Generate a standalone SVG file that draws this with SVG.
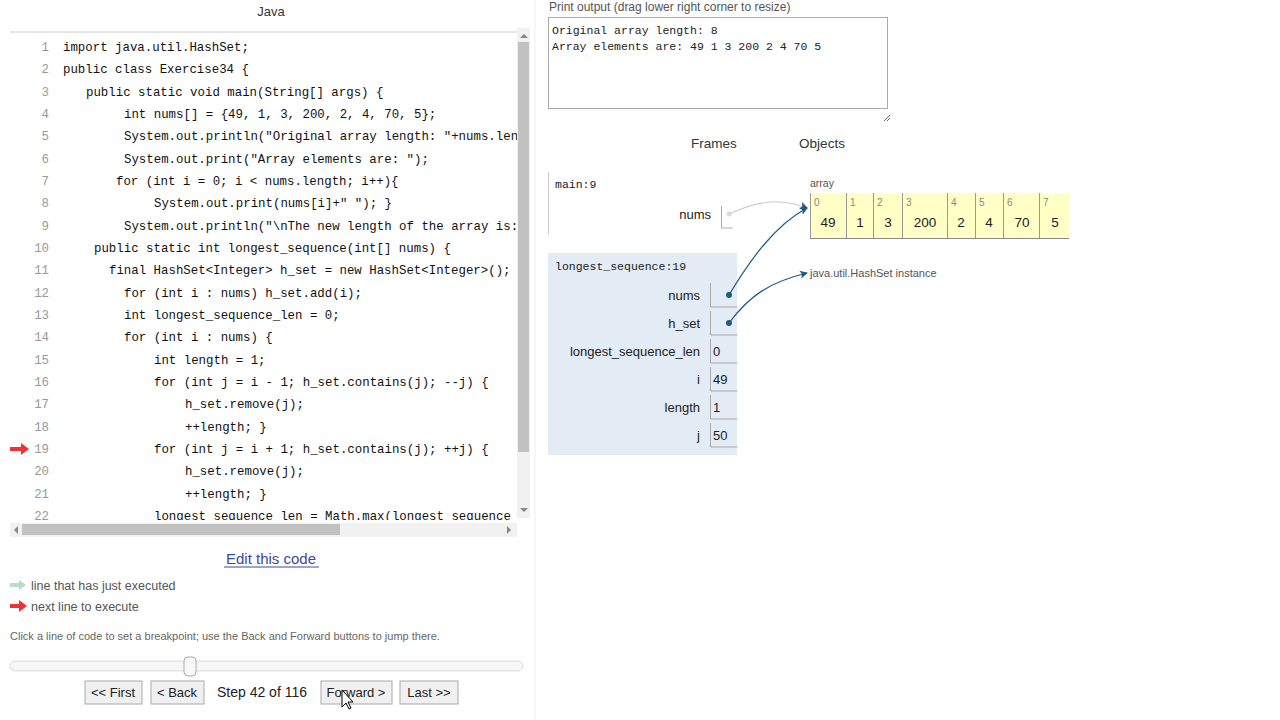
<svg xmlns="http://www.w3.org/2000/svg" width="1280" height="720" viewBox="0 0 1280 720">
<style>
.code{font-family:"Liberation Mono",monospace;font-size:12.4px;fill:#111}
.ln{font-family:"Liberation Mono",monospace;font-size:12.4px;fill:#999;text-anchor:end}
.ui{font-family:"Liberation Sans",Arial,sans-serif;font-size:13px;fill:#333}
.var{font-family:"Liberation Sans",Arial,sans-serif;font-size:13px;fill:#222;text-anchor:end}
.val{font-family:"Liberation Sans",Arial,sans-serif;font-size:13px;fill:#222}
.mono{font-family:"Liberation Mono",monospace;font-size:11.5px;fill:#222}
.idx{font-family:"Liberation Sans",Arial,sans-serif;font-size:10px;fill:#888}
.cell{font-family:"Liberation Sans",Arial,sans-serif;font-size:13.5px;fill:#222;text-anchor:middle}
.btn{fill:#f0f0f0;stroke:#aaa}
.btxt{font-family:"Liberation Sans",Arial,sans-serif;font-size:13px;fill:#222;text-anchor:middle}
.vbox{fill:none;stroke:#aaa}
</style>
<defs>
<clipPath id="cc"><rect x="0" y="30" width="517" height="490"/></clipPath>
<marker id="ab" markerWidth="8" markerHeight="8" refX="7" refY="4" orient="auto" markerUnits="userSpaceOnUse"><path d="M0,0 L8,4 L0,8 L2,4 z" fill="#1f5a80"/></marker>
</defs>
<rect width="1280" height="720" fill="#fff"/>
<line x1="535" y1="0" x2="535" y2="720" stroke="#eee"/>
<g id="editor">
<text x="271" y="16" class="ui" text-anchor="middle">Java</text>
<line x1="10" y1="32" x2="517" y2="32" stroke="#ccc"/>
<g clip-path="url(#cc)">
<text class="ln" x="49" y="51">1</text><text class="code" x="63" y="51">import java.util.HashSet;</text>
<text class="ln" x="49" y="73">2</text><text class="code" x="63" y="73">public class Exercise34 {</text>
<text class="ln" x="49" y="96">3</text><text class="code" x="86" y="96">public static void main(String[] args) {</text>
<text class="ln" x="49" y="118">4</text><text class="code" x="124" y="118">int nums[] = {49, 1, 3, 200, 2, 4, 70, 5};</text>
<text class="ln" x="49" y="140">5</text><text class="code" x="124" y="140">System.out.println("Original array length: "+nums.length);</text>
<text class="ln" x="49" y="163">6</text><text class="code" x="124" y="163">System.out.print("Array elements are: ");</text>
<text class="ln" x="49" y="185">7</text><text class="code" x="116" y="185">for (int i = 0; i &lt; nums.length; i++){</text>
<text class="ln" x="49" y="207">8</text><text class="code" x="154" y="207">System.out.print(nums[i]+" "); }</text>
<text class="ln" x="49" y="230">9</text><text class="code" x="124" y="230">System.out.println("\nThe new length of the array is: "+longest_sequence(nums));</text>
<text class="ln" x="49" y="252">10</text><text class="code" x="94" y="252">public static int longest_sequence(int[] nums) {</text>
<text class="ln" x="49" y="274">11</text><text class="code" x="109" y="274">final HashSet&lt;Integer&gt; h_set = new HashSet&lt;Integer&gt;();</text>
<text class="ln" x="49" y="297">12</text><text class="code" x="124" y="297">for (int i : nums) h_set.add(i);</text>
<text class="ln" x="49" y="319">13</text><text class="code" x="124" y="319">int longest_sequence_len = 0;</text>
<text class="ln" x="49" y="341">14</text><text class="code" x="124" y="341">for (int i : nums) {</text>
<text class="ln" x="49" y="364">15</text><text class="code" x="154" y="364">int length = 1;</text>
<text class="ln" x="49" y="386">16</text><text class="code" x="154" y="386">for (int j = i - 1; h_set.contains(j); --j) {</text>
<text class="ln" x="49" y="408">17</text><text class="code" x="185" y="408">h_set.remove(j);</text>
<text class="ln" x="49" y="431">18</text><text class="code" x="185" y="431">++length; }</text>
<text class="ln" x="49" y="453">19</text><text class="code" x="154" y="453">for (int j = i + 1; h_set.contains(j); ++j) {</text>
<text class="ln" x="49" y="475">20</text><text class="code" x="185" y="475">h_set.remove(j);</text>
<text class="ln" x="49" y="498">21</text><text class="code" x="185" y="498">++length; }</text>
<text class="ln" x="49" y="520">22</text><text class="code" x="154" y="520">longest_sequence_len = Math.max(longest_sequence_len, length);</text>
</g>
<path d="M10,447 h11 v-4 l8,6 l-8,6 v-4 h-11z" fill="#e33"/>
<rect x="517" y="28" width="13" height="490" fill="#f1f1f1"/>
<rect x="518" y="42" width="11" height="410" fill="#c1c1c1"/>
<path d="M520,38 l4,-4 l4,4z" fill="#888"/><path d="M520,508 l4,4 l4,-4z" fill="#888"/>
<rect x="10" y="523" width="507" height="14" fill="#f1f1f1"/>
<rect x="22" y="524" width="318" height="11" fill="#c1c1c1"/>
<path d="M18,526 l-4,4 l4,4z" fill="#888"/><path d="M507,526 l4,4 l-4,4z" fill="#888"/>
</g>
<g id="controls">
<text x="271" y="564" class="ui" text-anchor="middle" style="fill:#3b4a9c;font-size:15px">Edit this code</text>
<line x1="224" y1="567" x2="319" y2="567" stroke="#3b4a9c"/>
<path d="M10,583 h9 v-3 l7,5 l-7,5 v-3 h-9z" fill="#b9dcc9"/>
<text x="31" y="590" class="ui" style="fill:#555;font-size:12.5px">line that has just executed</text>
<path d="M10,604 h9 v-4 l8,6 l-8,6 v-4 h-9z" fill="#e33"/>
<text x="31" y="611" class="ui" style="fill:#555;font-size:12.5px">next line to execute</text>
<text x="10" y="640" class="ui" style="fill:#666;font-size:11px">Click a line of code to set a breakpoint; use the Back and Forward buttons to jump there.</text>
<rect x="10" y="661" width="513" height="10" rx="5" fill="#f6f6f6" stroke="#ddd"/>
<rect x="184" y="657" width="12" height="19" rx="4" fill="#f8f8f8" stroke="#aaa"/>
<rect x="85" y="681" width="57" height="23" class="btn"/><text x="113" y="697" class="btxt">&lt;&lt; First</text>
<rect x="151" y="681" width="53" height="23" class="btn"/><text x="177" y="697" class="btxt">&lt; Back</text>
<text x="262" y="697" class="btxt" style="font-size:14px">Step 42 of 116</text>
<rect x="321" y="681" width="71" height="23" class="btn"/><text x="356" y="697" class="btxt">Forward &gt;</text>
<rect x="400" y="681" width="58" height="23" class="btn"/><text x="429" y="697" class="btxt">Last &gt;&gt;</text>
<path d="M342,690 v17 l4,-4 l3,6 l2,-1 l-3,-6 h5z" fill="#fff" stroke="#000" stroke-width="1"/>
</g>
<g id="output">
<text x="549" y="11" class="ui" style="fill:#555;font-size:12px">Print output (drag lower right corner to resize)</text>
<rect x="548.5" y="17.5" width="339" height="91" fill="#fff" stroke="#aaa"/>
<text x="552" y="34" class="mono">Original array length: 8</text>
<text x="552" y="50" class="mono">Array elements are: 49 1 3 200 2 4 70 5</text>
<path d="M884,121 l6,-6 M887,121 l3,-3" stroke="#666"/>
</g>
<text x="714" y="148" class="ui" text-anchor="middle" style="font-size:13.5px">Frames</text>
<text x="822" y="148" class="ui" text-anchor="middle" style="font-size:13.5px">Objects</text>
<g id="frame-main">
<line x1="548.5" y1="172" x2="548.5" y2="234" stroke="#ccc"/>
<text x="555" y="188" class="mono">main:9</text>
<text x="711" y="219" class="var">nums</text>
<path d="M721.5,206 v22 h11" class="vbox" stroke="#ccc"/>
<circle cx="729" cy="214" r="2.5" fill="#ddd"/>
</g>
<g id="frame-ls">
<rect x="548" y="253" width="189" height="202" fill="#e3ebf5"/>
<text x="555" y="270" class="mono">longest_sequence:19</text>
<text x="700" y="300" class="var">nums</text><path d="M710.5,283 v24 h27" class="vbox"/>
<text x="700" y="328" class="var">h_set</text><path d="M710.5,311 v24 h27" class="vbox"/>
<text x="700" y="356" class="var">longest_sequence_len</text><path d="M710.5,339 v24 h27" class="vbox"/><text x="713" y="356" class="val">0</text>
<text x="700" y="384" class="var">i</text><path d="M710.5,367 v24 h27" class="vbox"/><text x="713" y="384" class="val">49</text>
<text x="700" y="412" class="var">length</text><path d="M710.5,395 v24 h27" class="vbox"/><text x="713" y="412" class="val">1</text>
<text x="700" y="440" class="var">j</text><path d="M710.5,423 v24 h27" class="vbox"/><text x="713" y="440" class="val">50</text>
<circle cx="729" cy="295" r="3" fill="#1f5a80"/>
<circle cx="729" cy="323" r="3" fill="#1f5a80"/>
</g>
<g id="array">
<text x="810" y="187" class="ui" style="fill:#555;font-size:10.5px">array</text>
<rect x="810" y="193" width="259" height="45" fill="#ffffc6"/>
<line x1="810.5" y1="193" x2="810.5" y2="238" stroke="#999"/>
<line x1="810" y1="238.5" x2="1069" y2="238.5" stroke="#888"/>
<g stroke="#999"><line x1="846.5" y1="193" x2="846.5" y2="238"/><line x1="873.5" y1="193" x2="873.5" y2="238"/><line x1="902.5" y1="193" x2="902.5" y2="238"/><line x1="947.5" y1="193" x2="947.5" y2="238"/><line x1="975.5" y1="193" x2="975.5" y2="238"/><line x1="1003.5" y1="193" x2="1003.5" y2="238"/><line x1="1039.5" y1="193" x2="1039.5" y2="238"/></g>
<text class="idx" x="814" y="206">0</text><text class="idx" x="850" y="206">1</text><text class="idx" x="877" y="206">2</text><text class="idx" x="906" y="206">3</text><text class="idx" x="951" y="206">4</text><text class="idx" x="979" y="206">5</text><text class="idx" x="1007" y="206">6</text><text class="idx" x="1043" y="206">7</text>
<text class="cell" x="828" y="227">49</text><text class="cell" x="860" y="227">1</text><text class="cell" x="888" y="227">3</text><text class="cell" x="925" y="227">200</text><text class="cell" x="961" y="227">2</text><text class="cell" x="989" y="227">4</text><text class="cell" x="1022" y="227">70</text><text class="cell" x="1055" y="227">5</text>
</g>
<g id="hashset">
<text x="810" y="277" class="ui" style="fill:#555;font-size:11px">java.util.HashSet instance</text>
</g>
<g id="connectors" fill="none">
<path d="M729,214 C760,200 780,198 807,208" stroke="#ccc" stroke-width="1.2" marker-end="url(#ab)"/>
<path d="M729,295 C750,260 775,225 807,208" stroke="#1f5a80" stroke-width="1.2" marker-end="url(#ab)"/>
<path d="M729,323 C750,295 770,282 807,273" stroke="#1f5a80" stroke-width="1.2" marker-end="url(#ab)"/>
</g>
</svg>
